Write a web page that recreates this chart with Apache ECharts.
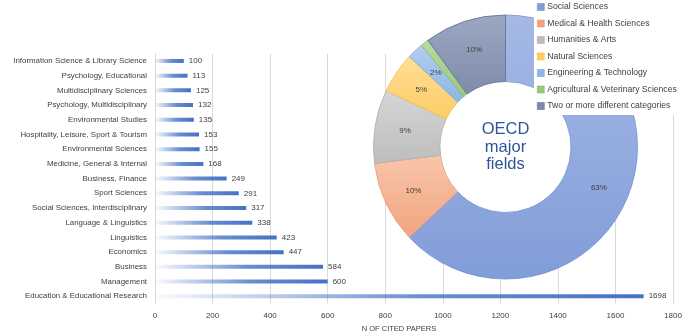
<!DOCTYPE html>
<html>
<head>
<meta charset="utf-8">
<script src="https://cdn.jsdelivr.net/npm/echarts@6/dist/echarts.min.js"></script>
<style>
  html, body { margin: 0; padding: 0; background: #fff; }
  #chart { width: 685px; height: 332px; }
</style>
</head>
<body>
<div id="chart"></div>
<script>
var subjectNames = ['Information Science & Library Science', 'Psychology, Educational', 'Multidisciplinary Sciences',
    'Psychology, Multidisciplinary', 'Environmental Studies', 'Hospitality, Leisure, Sport & Tourism',
    'Environmental Sciences', 'Medicine, General & Internal', 'Business, Finance', 'Sport Sciences',
    'Social Sciences, Interdisciplinary', 'Language & Linguistics', 'Linguistics', 'Economics',
    'Business', 'Management', 'Education & Educational Research'];
var citedPapers = [100, 113, 125, 132, 135, 153, 155, 168, 249, 291, 317, 338, 423, 447, 584, 600, 1698];
var xTicks = [0, 200, 400, 600, 800, 1000, 1200, 1400, 1600, 1800];

var fieldNames = ['Social Sciences', 'Medical & Health Sciences', 'Humanities & Arts', 'Natural Sciences',
    'Engineering & Technology', 'Agricultural & Veterinary Sciences', 'Two or more different categories'];
var fieldShares = [63, 10, 9, 5, 2, 1, 10];

// colours for the donut, same order as fieldNames (light top, darker bottom, edge)
var fieldTop = ['#a6b9e5', '#f8c6aa', '#d6d6d6', '#ffdf96', '#b2cfef', '#badaa3', '#9ca8c2'];
var fieldBottom = ['#819dd8', '#f1a47f', '#bdbdbd', '#fdcc64', '#8cb6e3', '#9bc77d', '#7d8cab'];
var fieldBorders = ['#6e8fd0', '#ec9a74', '#b0b0b0', '#f2c055', '#7fa9da', '#86bd66', '#5f6f90'];

var font = '"Liberation Sans", Arial, sans-serif';
var txt = '#404040';

var dom = document.getElementById('chart');
var chart = echarts.init(dom, null, { renderer: 'canvas', width: 685, height: 332 });

var barGradient = new echarts.graphic.LinearGradient(0, 0, 1, 0, [
    { offset: 0, color: 'rgba(68,114,196,0.03)' },
    { offset: 0.55, color: 'rgba(68,114,196,0.8)' },
    { offset: 1, color: '#4472c4' }
]);

var donutData = fieldNames.map(function (n, i) {
    return {
        name: n,
        value: fieldShares[i],
        itemStyle: {
            color: new echarts.graphic.LinearGradient(0, 0, 0, 1, [
                { offset: 0, color: fieldTop[i] },
                { offset: 1, color: fieldBottom[i] }
            ]),
            borderColor: fieldBorders[i],
            borderWidth: 0.8
        },
        label: { show: fieldShares[i] >= 2 }
    };
});

var option = {
    animation: false,
    backgroundColor: '#fff',
    textStyle: { fontFamily: font },
    grid: { left: 155, right: 12, top: 53.6, bottom: 28.4, containLabel: false, outerBoundsMode: 'none' },
    legend: {
        orient: 'vertical',
        left: 534,
        top: 0,
        padding: [1, 4, 3, 3],
        backgroundColor: '#fff',
        itemWidth: 7,
        itemHeight: 7,
        itemGap: 4.5,
        icon: 'rect',
        selectedMode: false,
        data: fieldNames.map(function (n, i) {
            return { name: n, itemStyle: { color: fieldBottom[i], borderColor: fieldBorders[i], borderWidth: 0.6 } };
        }),
        textStyle: { fontFamily: font, fontSize: 8.6, color: txt, lineHeight: 12, padding: [0, 0, 0, -2] }
    },
    xAxis: {
        type: 'value',
        min: 0,
        max: 1800,
        interval: 200,
        name: 'N OF CITED PAPERS',
        nameLocation: 'middle',
        nameGap: 20,
        nameTextStyle: { fontFamily: font, fontSize: 7.5, color: txt, padding: [0, 30, 0, 0] },
        axisLine: { show: false },
        axisTick: { show: false },
        axisLabel: { fontFamily: font, fontSize: 8, color: txt, margin: 8, formatter: function (v) { return String(v); } },
        splitLine: { lineStyle: { color: '#d9d9d9', width: 1 } }
    },
    yAxis: {
        type: 'category',
        inverse: true,
        data: subjectNames,
        name: 'WOS SUBJECT CATEGORY',
        nameLocation: 'middle',
        nameGap: 144,
        nameRotate: 90,
        nameTextStyle: { fontFamily: font, fontSize: 7.5, color: txt },
        axisLine: { show: true, lineStyle: { color: '#d9d9d9' } },
        axisTick: { show: false },
        axisLabel: { fontFamily: font, fontSize: 7.9, color: txt, margin: 8 }
    },
    series: [
        {
            name: 'Cited papers',
            type: 'bar',
            data: citedPapers,
            barWidth: 4,
            itemStyle: { color: barGradient },
            label: {
                show: true,
                position: 'right',
                distance: 5,
                fontFamily: font,
                fontSize: 8,
                color: txt
            },
            z: 2
        },
        {
            name: 'hole',
            type: 'pie',
            center: [505.5, 147],
            radius: [0, 65.5],
            silent: true,
            z: 3,
            legendHoverLink: false,
            data: [{ name: '', value: 1, itemStyle: { color: '#fff' } }],
            label: {
                show: true,
                position: 'center',
                formatter: 'OECD\nmajor\nfields',
                fontFamily: font,
                fontSize: 16.5,
                lineHeight: 17.5,
                color: '#2f5597'
            },
            labelLine: { show: false }
        },
        {
            name: 'OECD major fields',
            type: 'pie',
            center: [505.5, 147],
            radius: [65.5, 132],
            startAngle: 90,
            clockwise: true,
            z: 3,
            data: donutData,
            label: {
                position: 'inside',
                formatter: '{d}%',
                fontFamily: font,
                fontSize: 8,
                color: txt
            },
            labelLine: { show: false },
            emphasis: { disabled: true }
        }
    ]
};

chart.setOption(option);
</script>
</body>
</html>
